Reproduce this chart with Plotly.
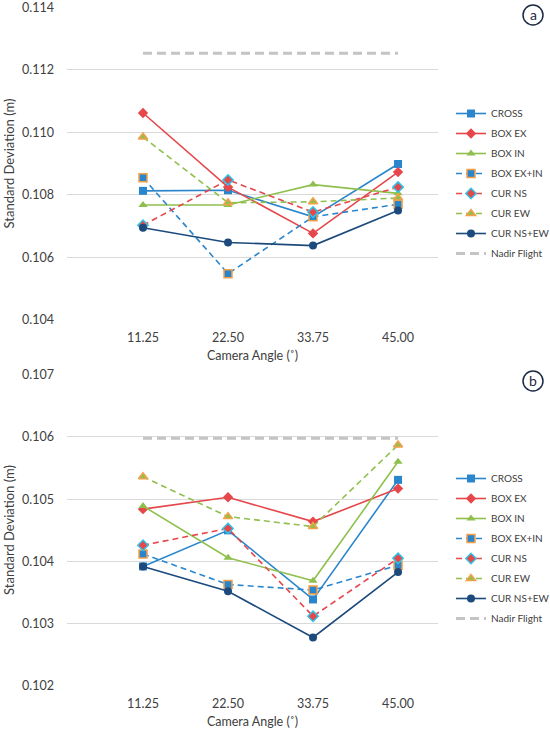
import plotly.graph_objects as go

# camera angle categories
angles = ['11.25', '22.50', '33.75', '45.00']

# (a) standard deviation per flight configuration
a_cross = [0.10813, 0.10815, 0.10730, 0.10899]
a_box_ex = [0.11062, 0.10825, 0.10677, 0.10873]
a_box_in = [0.10768, 0.10768, 0.10833, 0.10805]
a_box_exin = [0.10855, 0.10548, 0.10730, 0.10770]
a_cur_ns = [0.10703, 0.10848, 0.10745, 0.10825]
a_cur_ew = [0.10985, 0.10775, 0.10778, 0.10790]
a_cur_nsew = [0.10695, 0.10648, 0.10638, 0.10750]
a_nadir = 0.11253

# (b) standard deviation per flight configuration
b_cross = [0.10392, 0.10450, 0.10339, 0.10531]
b_box_ex = [0.10484, 0.10503, 0.10464, 0.10517]
b_box_in = [0.10489, 0.10406, 0.10369, 0.10560]
b_box_exin = [0.10412, 0.10363, 0.10354, 0.10394]
b_cur_ns = [0.10426, 0.10453, 0.10312, 0.10405]
b_cur_ew = [0.10536, 0.10472, 0.10456, 0.10587]
b_cur_nsew = [0.10392, 0.10352, 0.10278, 0.10383]
b_nadir = 0.10598

BLUE = '#2a86cc'
RED = '#e6474b'
GREEN = '#8fc04e'
ORANGE = '#f4a04a'
NAVY = '#1c4a7c'
CYAN = '#2ec4e8'
GRAY = '#c4c4c4'
FONT = 'Lato, Noto Sans, sans-serif'
TXT = '#404040'

# name, line colour, dash, symbol, marker fill, marker outline
styles = [
  ('CROSS', BLUE, 'solid', 'square', BLUE, BLUE),
  ('BOX EX', RED, 'solid', 'diamond', RED, RED),
  ('BOX IN', GREEN, 'solid', 'triangle-up', GREEN, GREEN),
  ('BOX EX+IN', BLUE, '6px,4px', 'square', BLUE, ORANGE),
  ('CUR NS', RED, '6px,4px', 'diamond', RED, CYAN),
  ('CUR EW', GREEN, '6px,4px', 'triangle-up', GREEN, ORANGE),
  ('CUR NS+EW', NAVY, 'solid', 'circle', NAVY, NAVY),
]

fig = go.Figure()


def add_panel(series, nadir, xa, ya, legend):
  for (name, col, dash, sym, fill, edge), vals in zip(styles, series):
    fig.add_trace(go.Scatter(
      x=angles, y=vals, name=name, mode='lines+markers',
      xaxis=xa, yaxis=ya, legend=legend, legendgroup=legend + name,
      line=dict(color=col, width=1.6, dash=dash),
      marker=dict(symbol=sym, size=8, color=fill,
                  line=dict(color=edge, width=1.5 if edge != fill else 0))
    ))
  fig.add_trace(go.Scatter(
    x=angles, y=[nadir] * len(angles), name='Nadir Flight', mode='lines',
    xaxis=xa, yaxis=ya, legend=legend, legendgroup=legend + 'nadir',
    line=dict(color=GRAY, width=3, dash='9px,5px')
  ))


add_panel([a_cross, a_box_ex, a_box_in, a_box_exin, a_cur_ns, a_cur_ew, a_cur_nsew],
          a_nadir, 'x', 'y', 'legend')
add_panel([b_cross, b_box_ex, b_box_in, b_box_exin, b_cur_ns, b_cur_ew, b_cur_nsew],
          b_nadir, 'x2', 'y2', 'legend2')

axis_font = dict(family=FONT, size=12.5, color=TXT)

xcommon = dict(
  type='category', range=[-0.894, 3.47], showgrid=False, zeroline=False,
  showline=False, tickfont=axis_font, ticklabelstandoff=8, automargin=False,
  domain=[67 / 550, 438 / 550],
  title=dict(text='Camera Angle (˚)', font=axis_font, standoff=7)
)
ycommon = dict(
  showgrid=True, gridcolor='#d9d9d9', gridwidth=1, zeroline=False,
  showline=False, tickfont=axis_font, ticklabelstandoff=12, automargin=False,
  ticklabeloverflow='allow',
  title=dict(text='Standard Deviation (m)', font=dict(axis_font, size=13),
             standoff=4)
)

legend_common = dict(
  font=dict(family=FONT, size=10, color=TXT), bgcolor='rgba(0,0,0,0)',
  tracegroupgap=1, xanchor='left', yanchor='top', itemwidth=30
)

fig.update_layout(
  width=550, height=732,
  margin=dict(l=0, r=0, t=0, b=0, autoexpand=False),
  paper_bgcolor='white', plot_bgcolor='white',
  font=dict(family=FONT, color=TXT),
  hovermode=False,
  xaxis=dict(xcommon, anchor='y'),
  xaxis2=dict(xcommon, anchor='y2'),
  yaxis=dict(ycommon, anchor='x', range=[0.104, 0.11401], dtick=0.002,
             tickformat='.3f', domain=[1 - 320 / 732, 1 - 7 / 732]),
  yaxis2=dict(ycommon, anchor='x2', range=[0.102, 0.10701], dtick=0.001,
              tickformat='.3f', domain=[1 - 686 / 732, 1 - 374 / 732]),
  legend=dict(legend_common, x=451 / 550, y=1 - 99 / 732),
  legend2=dict(legend_common, x=451 / 550, y=1 - 464 / 732),
)

# panel labels (a) and (b)
for lbl, cy in [('a', 15), ('b', 381)]:
  fig.add_shape(type='circle', xref='paper', yref='paper',
                x0=523 / 550, x1=543 / 550,
                y0=1 - (cy + 10) / 732, y1=1 - (cy - 10) / 732,
                line=dict(color='#1c2a44', width=1.5))
  fig.add_annotation(text=lbl, xref='paper', yref='paper',
                     x=533 / 550, y=1 - (cy - 1) / 732, showarrow=False,
                     xanchor='center', yanchor='middle',
                     font=dict(family=FONT, size=14, color='#1c2a44'))

# the page body has a default 8px margin; drop it so the figure fills the window
fig.write_html('out.html', config={'displayModeBar': False},
               post_script="document.body.style.margin='0';")
